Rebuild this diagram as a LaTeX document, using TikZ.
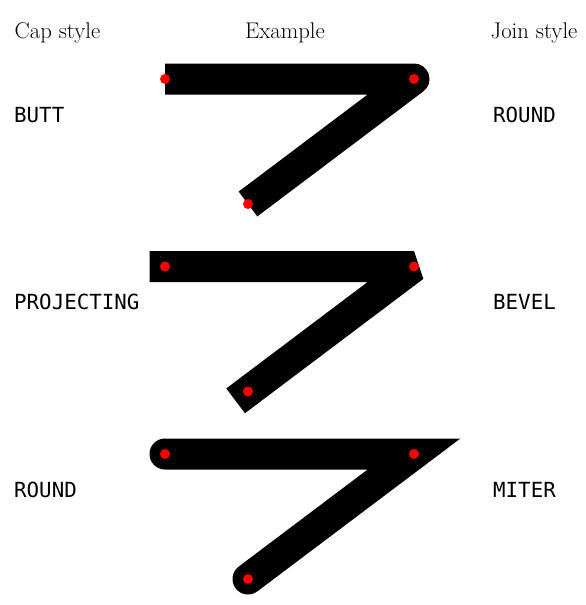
\documentclass[tikz,border=0pt]{standalone}
\usepackage{fontspec}
\setmonofont{DejaVu Sans Mono}
\begin{document}
\begin{tikzpicture}[
                x=1pt, y=-1pt,
                head/.style={font=\fontsize{22.7}{27}\selectfont, anchor=base, inner sep=0pt},
                stylename/.style={font=\fontsize{20.8}{25}\selectfont\ttfamily, anchor=base west, inner sep=0pt},
                stroke/.style={line width=31pt},
                dot/.style={fill=red}
            ]
            \useasboundingbox (0,0) rectangle (586,605);

            % column headings
            \node[head] (caphead) at (57.5,38) {Cap style};
            \node[head] (exhead) at (285,38) {Example};
            \node[head] (joinhead) at (534,38) {Join style};

            % butt / round
            \coordinate (a1) at (165,79);
            \coordinate (b1) at (414,79);
            \coordinate (c1) at (248,204);
            \draw[stroke, line cap=butt, line join=round] (a1) -- (b1) -- (c1);
            \node[stylename] (cap1) at (14,122) {BUTT};
            \node[stylename] (join1) at (493,122) {ROUND};

            % projecting / bevel
            \coordinate (a2) at (165,266.5);
            \coordinate (b2) at (414,266.5);
            \coordinate (c2) at (248,391.5);
            \draw[stroke, line cap=rect, line join=bevel] (a2) -- (b2) -- (c2);
            \node[stylename] (cap2) at (14,309.5) {PROJECTING};
            \node[stylename] (join2) at (493,309.5) {BEVEL};

            % round / miter
            \coordinate (a3) at (165,454);
            \coordinate (b3) at (414,454);
            \coordinate (c3) at (248,579);
            \draw[stroke, line cap=round, line join=miter] (a3) -- (b3) -- (c3);
            \node[stylename] (cap3) at (14,497) {ROUND};
            \node[stylename] (join3) at (493,497) {MITER};

            % the points themselves
            \foreach \p in {a1,b1,c1,a2,b2,c2,a3,b3,c3}
                \fill[dot] (\p) circle (5);

        \end{tikzpicture}
\end{document}
